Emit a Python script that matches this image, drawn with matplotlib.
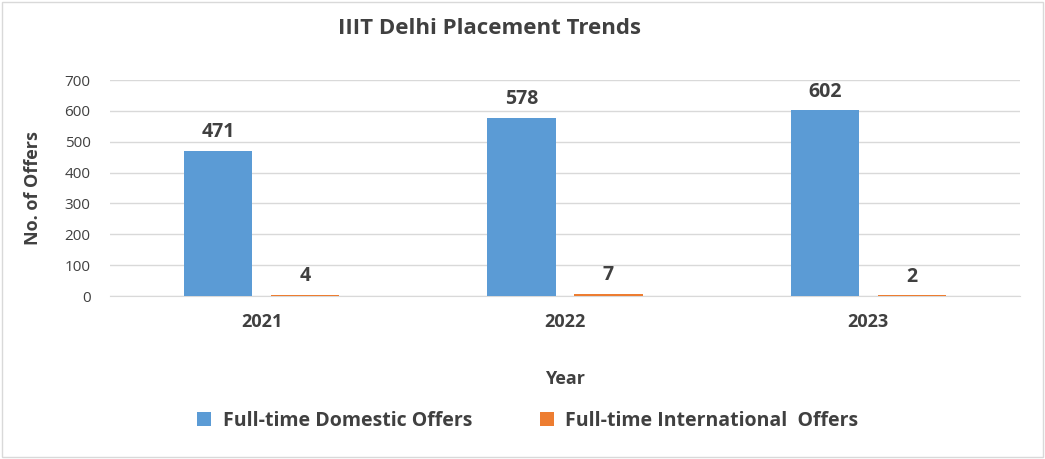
import matplotlib
matplotlib.use("Agg")
import matplotlib.pyplot as plt
import numpy as np

years = ["2021", "2022", "2023"]
domestic = [471, 578, 602]
international = [4, 7, 2]
series_names = ["Full-time Domestic Offers", "Full-time International  Offers"]

plt.rcParams['font.family'] = ['Open Sans', 'DejaVu Sans']
fig = plt.figure(figsize=(10.45, 4.59), dpi=100)
ax = fig.add_axes([110/1045, 1-296/459, 910/1045, 216/459])
x = np.arange(len(years))
w, off = 0.225, 0.143
b1 = ax.bar(x-off, domestic, w, color='#5B9BD5', label=series_names[0], zorder=3)
b2 = ax.bar(x+off, international, w, color='#ED7D31', label=series_names[1], zorder=3)
for bars, vals in ((b1, domestic), (b2, international)):
    for r, v in zip(bars, vals):
        ax.text(r.get_x()+r.get_width()/2, v+28, str(v), ha='center', va='bottom',
                fontsize=14, fontweight='bold', color='#404040')
ax.set_xlim(-0.5, 2.5)
ax.set_ylim(0, 700)
ax.set_yticks(range(0, 701, 100))
ax.grid(axis='y', color='#D9D9D9', lw=1, zorder=0)
for s in ['top', 'right', 'left']:
    ax.spines[s].set_visible(False)
ax.spines['bottom'].set_color('#D9D9D9')
ax.tick_params(axis='both', length=0, colors='#404040')
ax.tick_params(axis='y', labelsize=11, pad=14)
ax.set_xticks(x)
ax.set_xticklabels(years, fontsize=13, fontweight='bold')
ax.tick_params(axis='x', pad=12)
ax.set_xlabel('Year', fontsize=13, fontweight='bold', color='#404040', labelpad=28)
ax.set_ylabel('No. of Offers', fontsize=13, fontweight='bold', color='#404040', labelpad=16)
fig.text(490/1045, 1-28/459, 'IIIT Delhi Placement Trends', ha='center', va='center',
         fontsize=16, fontweight='bold', color='#404040')
fig.legend(handles=[b1, b2], loc='center', bbox_to_anchor=(528/1045, 1-421/459), ncol=2,
           frameon=False, handlelength=0.7, handleheight=0.7, handletextpad=0.6,
           columnspacing=3.5, labelcolor='#404040', prop={'weight': 'bold', 'size': 14})
fig.patches.append(plt.Rectangle((0.002, 0.004), 0.996, 0.992, transform=fig.transFigure,
                                 fill=False, ec='#D9D9D9', lw=1))
fig.savefig('out.png', dpi=100)
